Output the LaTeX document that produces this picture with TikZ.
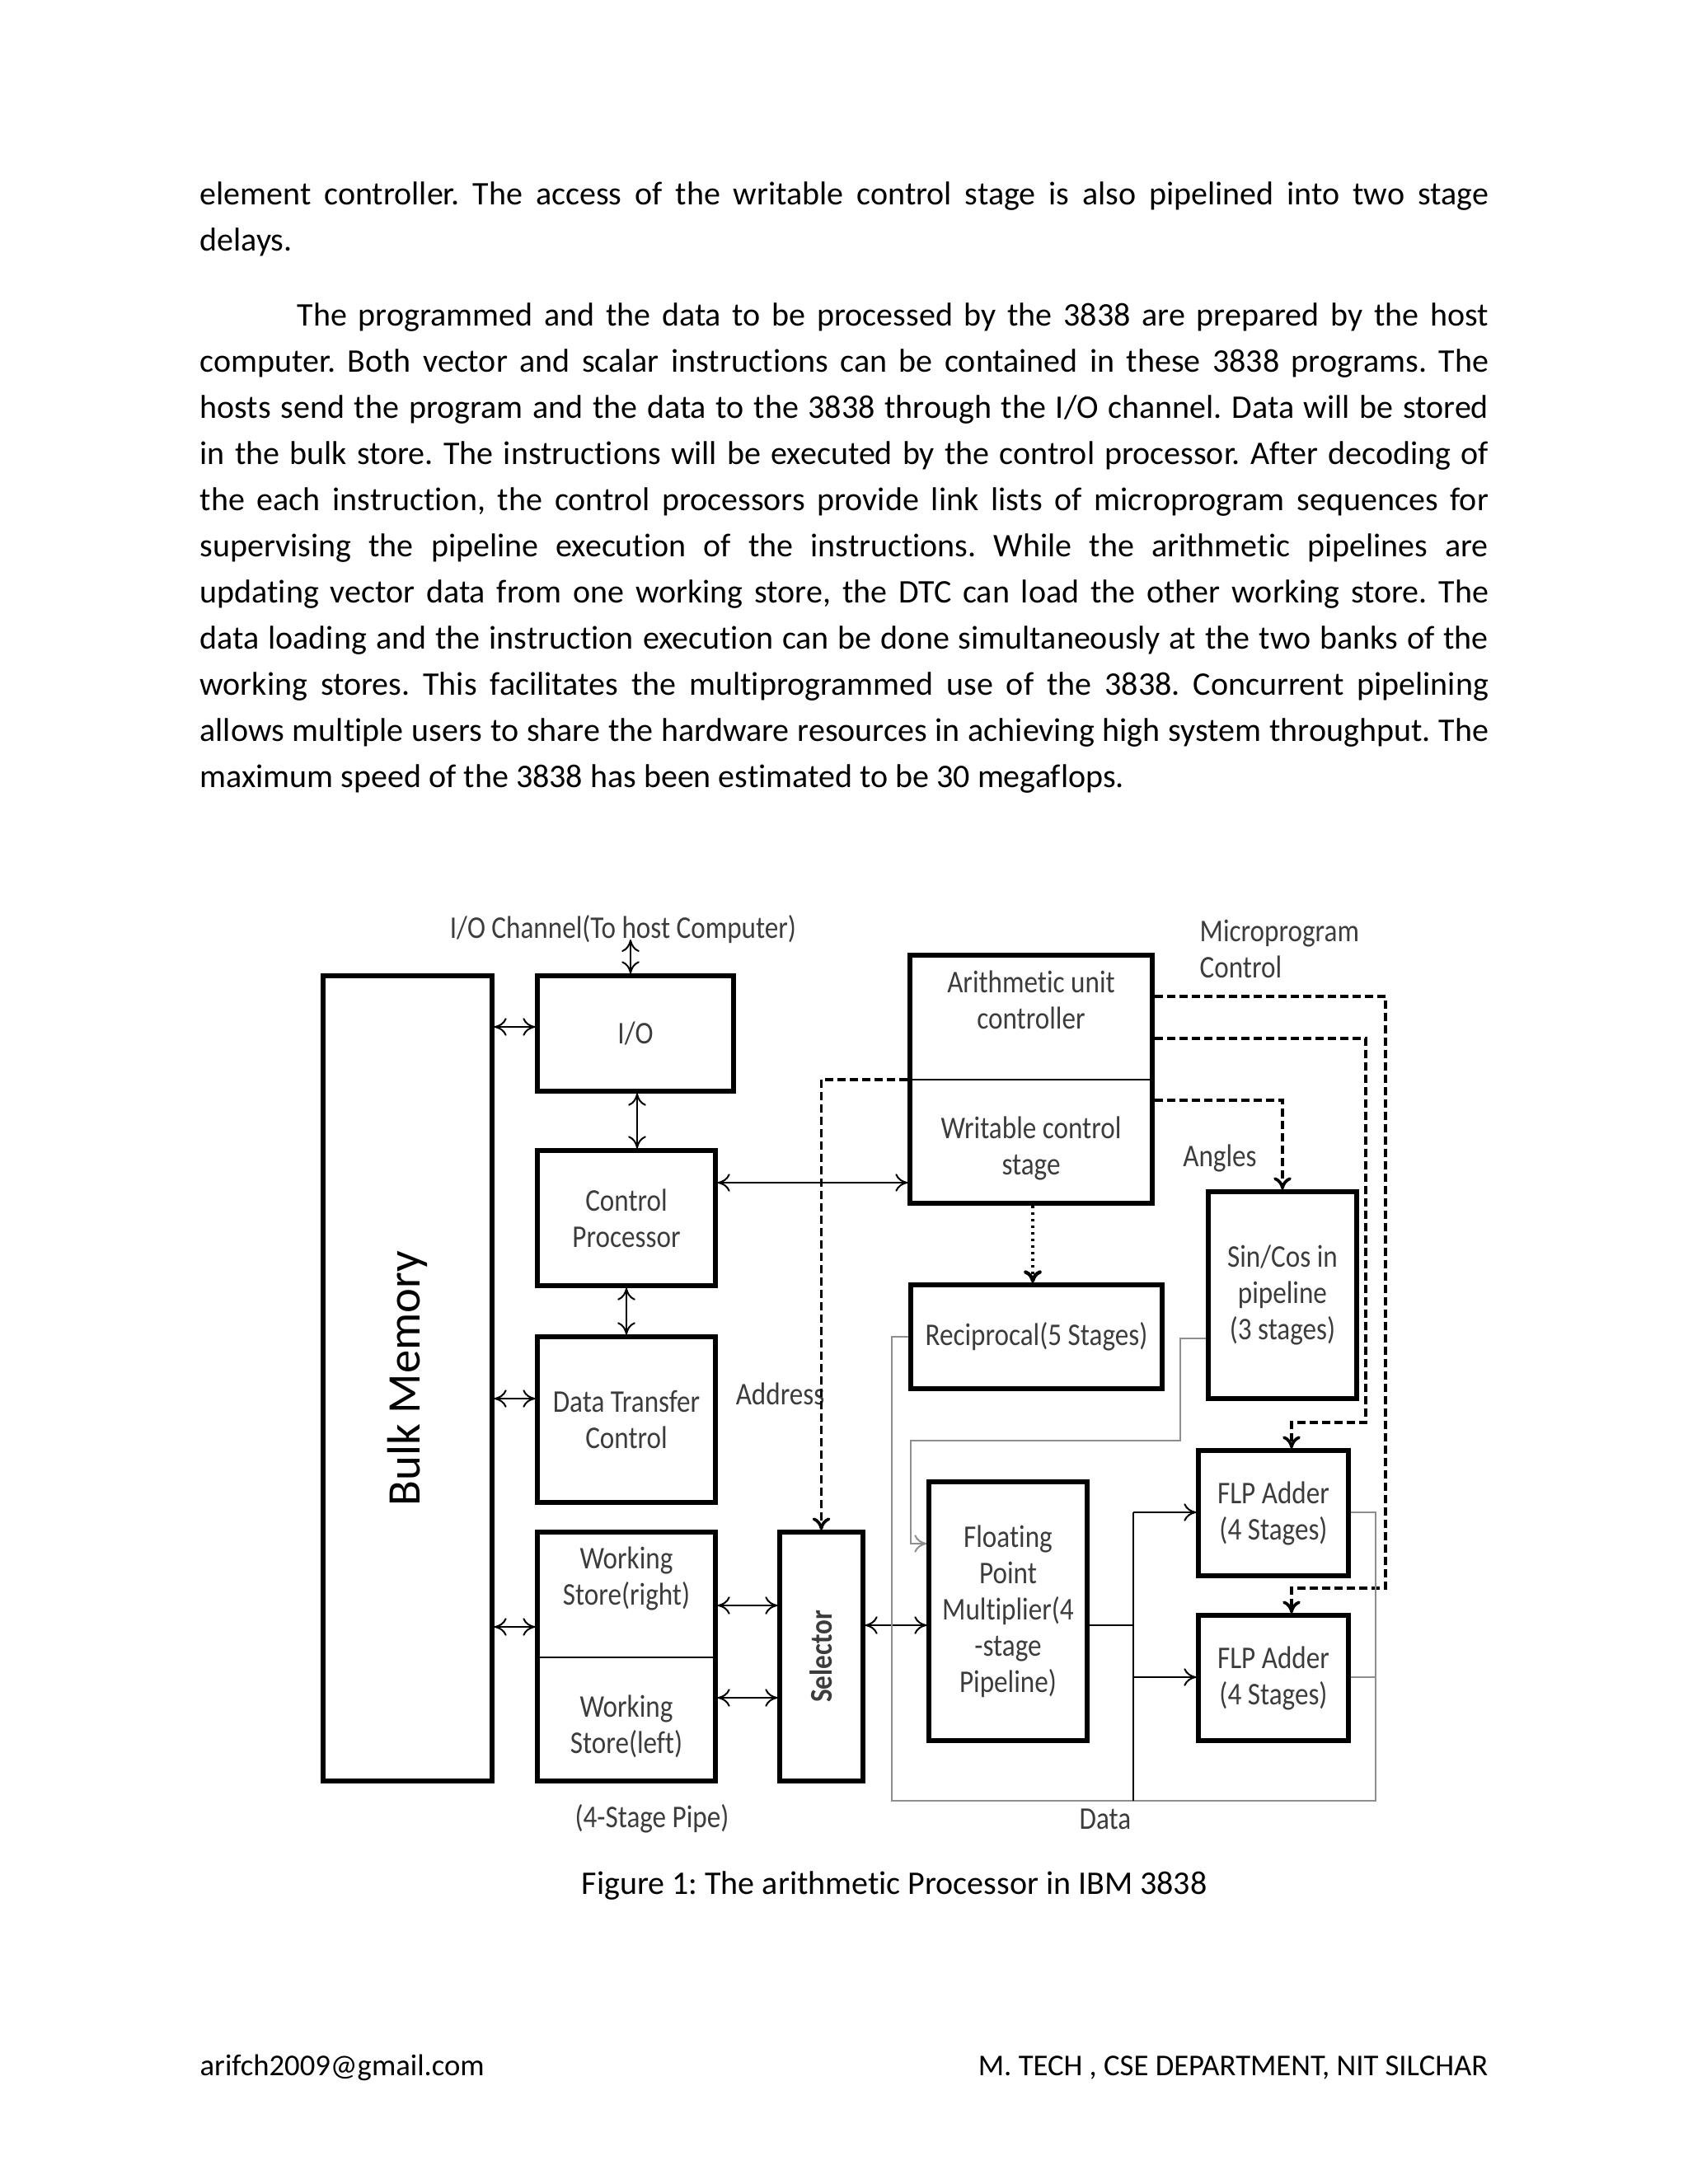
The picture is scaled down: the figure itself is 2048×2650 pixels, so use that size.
\documentclass[tikz,border=0pt]{standalone}
\usepackage{fontspec}
\setmainfont[Ligatures=NoCommon]{Carlito}
\newfontfamily\diagfont[FakeStretch=0.865, Ligatures=NoCommon]{Carlito}
\usetikzlibrary{arrows.meta}
\hyphenpenalty=10000
\exhyphenpenalty=10000
\frenchspacing

\definecolor{txtgray}{HTML}{3C3C3C}
\definecolor{datagray}{HTML}{8E8E8E}
\newcommand{\pxu}{0.010542cm}

\tikzset{
  >={To[length=4.5pt,width=6.5pt]},
  blk/.style={draw, line width=1.6pt, inner sep=0pt, align=center, text=txtgray,
    font=\diagfont\fontsize{11.5}{13.2}\selectfont},
  wh/.style 2 args={minimum width=#1*\pxu, minimum height=#2*\pxu},
  lbl/.style={inner sep=0pt, align=center, text=txtgray,
    font=\diagfont\fontsize{11.5}{13.2}\selectfont},
  conn/.style={line width=0.6pt},
  ctrl/.style={line width=1.1pt, dash pattern=on 3pt off 1.5pt},
  dots/.style={line width=1.3pt, dash pattern=on 1pt off 1.4pt},
  datapath/.style={line width=0.6pt, draw=datagray},
  body/.style={inner sep=0pt, text width=6.49in, align=justify,
    font=\fontsize{12}{16.8}\selectfont}
}

\begin{document}
\begin{tikzpicture}[x=0.010542cm, y=-0.010542cm]
\useasboundingbox (0,0) rectangle (2048,2650);

% text of the page
\node[body, anchor=base west] (para1) at (242,248) {element controller. The access of the writable control stage is also pipelined into two stage\linebreak delays.};
\node[body, anchor=base west] (para2) at (242,395) {\hspace*{0.49in}The programmed and the data to be processed by the 3838 are prepared by the host\linebreak
computer. Both vector and scalar instructions can be contained in these 3838 programs. The\linebreak
hosts send the program and the data to the 3838 through the I/O channel. Data will be stored\linebreak
in the bulk store. The instructions will be executed by the control processor. After decoding of\linebreak
the each instruction, the control processors provide link lists of microprogram sequences for\linebreak
supervising the pipeline execution of the instructions. While the arithmetic pipelines are\linebreak
updating vector data from one working store, the DTC can load the other working store. The\linebreak
data loading and the instruction execution can be done simultaneously at the two banks of the\linebreak
working stores. This facilitates the multiprogrammed use of the 3838. Concurrent pipelining\linebreak
allows multiple users to share the hardware resources in achieving high system throughput. The\linebreak
maximum speed of the 3838 has been estimated to be 30 megaflops.};

% blocks, left half
\node[blk, wh={205}{977}] (bulk) at (494.5,1672.5) {};
\node[rotate=90, inner sep=0pt, font=\fontsize{17}{20}\selectfont] (bulklbl) at (bulk.center) {Bulk Memory};
\node[blk, wh={238}{140}] (io) at (771,1254) {I/O};
\node[blk, wh={216}{164}] (cp) at (760,1478) {Control\\Processor};
\node[blk, wh={216}{201}] (dtc) at (760,1722.5) {Data Transfer\\Control};
\node[blk, wh={216}{302}] (ws) at (760,2010) {};
\draw[conn] (ws.west |- 0,2011) -- (ws.east |- 0,2011);
\node[lbl] (wsr) at (760,1915) {Working\\Store(right)};
\node[lbl] (wsl) at (760,2095) {Working\\Store(left)};
\node[blk, wh={101}{302}] (sel) at (996.5,2010) {};
\node[lbl, rotate=90, font=\diagfont\fontsize{11.5}{13.2}\selectfont\bfseries] (sellbl) at (sel.center) {Selector};

% blocks, right half
\node[blk, wh={294}{301}] (au) at (1251,1309.5) {};
\draw[conn] (au.west |- 0,1310) -- (au.east |- 0,1310);
\node[lbl] (auc) at (1251,1213) {Arithmetic unit\\controller};
\node[lbl] (wcs) at (1251,1393) {Writable control\\stage};
\node[blk, wh={305}{126}] (rec) at (1257.5,1622) {Reciprocal(5 Stages)};
\node[blk, wh={180}{251}] (sc) at (1556,1571.5) {Sin/Cos in\\pipeline\\(3 stages)};
\node[blk, wh={192}{314}] (fpm) at (1223,1955) {Floating\\Point\\Multiplier(4\\-stage\\Pipeline)};
\node[blk, wh={182}{152}] (add1) at (1545,1836) {FLP Adder\\(4 Stages)};
\node[blk, wh={182}{152}] (add2) at (1545,2036) {FLP Adder\\(4 Stages)};

% labels
\node[lbl] (chanlbl) at (756,1128) {I/O Channel(To host Computer)};
\node[lbl, anchor=west, align=left] (mpclbl) at (1455,1151) {Microprogram\\Control};
\node[lbl] (anglbl) at (1480,1405) {Angles};
\node[lbl, anchor=east] (addrlbl) at (1001,1691) {Address};
\node[lbl] (pipelbl) at (791,2207) {(4-Stage Pipe)};
\node[lbl] (datalbl) at (1341,2207) {Data};
\coordinate (iochan) at (765,1140);
\coordinate (drop) at (1567,0);

% connectors
\draw[conn, <->] (iochan) -- (io.north -| iochan);
\draw[conn, <->] (bulk.east |- 0,1246) -- (io.west |- 0,1246);
\draw[conn, <->] (io.south -| 773,0) -- (cp.north -| 773,0);
\draw[conn, <->] (cp.south) -- (dtc.north);
\draw[conn, <->] (bulk.east |- 0,1697) -- (dtc.west |- 0,1697);
\draw[conn, <->] (bulk.east |- 0,1974) -- (ws.west |- 0,1974);
\draw[conn, <->] (ws.east |- 0,1948) -- (sel.west |- 0,1948);
\draw[conn, <->] (ws.east |- 0,2060) -- (sel.west |- 0,2060);
\draw[conn, <->] (cp.east |- 0,1435) -- (au.west |- 0,1435);
\draw[conn, <->] (sel.east |- 0,1972) -- (fpm.west |- 0,1972);

% control lines
\draw[ctrl, ->] (au.west |- 0,1310) -| (sel.north);
\draw[dots, ->] (au.south -| 1253,0) -- (rec.north -| 1253,0);
\draw[ctrl, ->] (au.east |- 0,1335) -| (sc.north);
\draw[ctrl, ->] (au.east |- 0,1209) -| (1681,1927) -| (add2.north -| drop);
\draw[ctrl, ->] (au.east |- 0,1260) -| (1657,1726) -| (add1.north -| drop);

% data lines
\draw[datapath] (rec.west) -- (rec.west -| 1082,0) |- (1669,2185) |- (add1.east |- 0,1835);
\draw[datapath] (add2.east |- 0,2035) -- (1669,2035);
\draw[datapath, ->] (sc.west |- 0,1624) -| (1432,1748) -| (1105,1873) -- (fpm.west |- 0,1873);
\draw[conn] (fpm.east |- 0,1972) -- (1375,1972);
\draw[conn] (1375,1835) -- (1375,2185);
\draw[conn, ->] (1375,1835) -- (add1.west |- 0,1835);
\draw[conn, ->] (1375,2035) -- (add2.west |- 0,2035);

% caption and footer
\node[inner sep=0pt, anchor=base west, font=\fontsize{12}{14}\selectfont] (caption) at (705,2298) {Figure 1: The arithmetic Processor in IBM 3838};
\node[inner sep=0pt, anchor=base west, font=\fontsize{11}{13}\selectfont] (footl) at (242,2518) {arifch2009@gmail.com};
\node[inner sep=0pt, anchor=base east, font=\fontsize{11}{13}\selectfont] (footr) at (1806,2518) {M. TECH , CSE DEPARTMENT, NIT SILCHAR};

\end{tikzpicture}
\end{document}
